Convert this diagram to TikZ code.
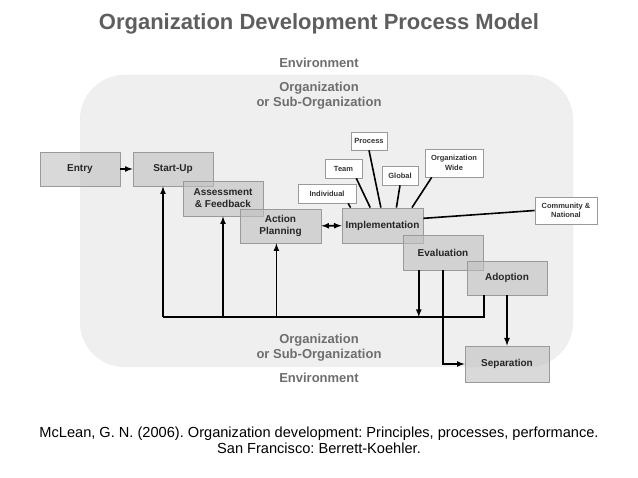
\documentclass[tikz,border=0pt]{standalone}
\usepackage{fontspec}
\setmainfont{Liberation Sans}
\usetikzlibrary{calc}
\frenchspacing
\definecolor{titlegray}{HTML}{5E5E5E}
\definecolor{envgray}{HTML}{6E6E6E}
\definecolor{orgfill}{HTML}{EFEFEF}
\definecolor{boxfill}{HTML}{C0C0C0}
\definecolor{boxline}{HTML}{9A9A9A}
\definecolor{tagtext}{HTML}{333333}
\begin{document}
\begin{tikzpicture}[x=1pt,y=-1pt,
  stage/.style={draw=boxline,line width=0.8pt,fill=boxfill,fill opacity=0.6,text opacity=1,
    minimum width=80pt,minimum height=34pt,inner sep=1pt,align=center,
    font=\fontsize{10}{12}\selectfont\bfseries,text=black!85},
  tag/.style={draw=boxline,line width=0.7pt,fill=white,inner sep=1pt,align=center,
    font=\fontsize{7.5}{9.5}\selectfont\bfseries,text=tagtext},
  envtext/.style={align=center,text=envgray,font=\fontsize{13}{15}\selectfont\bfseries},
  flow/.style={line width=1.6pt,black},
  >=latex]
  \useasboundingbox (0,0) rectangle (638,478);
  \fill[white] (0,0) rectangle (638,478);
  \node[text=titlegray,font=\fontsize{22}{26}\selectfont\bfseries] (title) at (319,24) {Organization Development Process Model};
  % environment and organization
  \draw[orgfill!80!gray,dotted,fill=orgfill,rounded corners=45pt] (80,75) rectangle (573,367);
  \node[envtext] (envtop) at (319,63) {Environment};
  \node[envtext] (envbot) at (319,378) {Environment};
  \node[envtext] (orgtop) at (319,95.5) {Organization\\or Sub-Organization};
  \node[envtext] (orgbot) at (319,347.5) {Organization\\or Sub-Organization};
  % stages
  \node[stage] (entry) at (80,169) {Entry};
  \node[stage] (start) at (173,169) {Start-Up};
  \node[stage,minimum height=35pt] (assess) at (223,198.5) {Assessment\\\& Feedback};
  \node[stage,minimum width=81pt] (action) at (280.5,226) {Action\\Planning};
  \node[stage,minimum width=81pt,minimum height=35pt] (impl) at (382.5,225.5) {Implementation};
  \node[stage,minimum height=35pt] (eval) at (443,252.5) {Evaluation};
  \node[stage] (adopt) at (507,278) {Adoption};
  \node[stage,minimum width=84pt,minimum height=36pt] (sep) at (507,364) {Separation};
  % levels of implementation
  \node[tag,minimum width=36pt,minimum height=18pt] (process) at (369,141) {Process};
  \node[tag,minimum width=37pt,minimum height=19pt] (team) at (343.5,168.5) {Team};
  \node[tag,minimum width=36pt,minimum height=19pt] (global) at (400,175.5) {Global};
  \node[tag,minimum width=58pt,minimum height=28pt] (orgwide) at (454,163) {Organization\\Wide};
  \node[tag,minimum width=58pt,minimum height=19pt] (indiv) at (327,193.5) {Individual};
  \node[tag,minimum width=62pt,minimum height=27pt] (commun) at (566,210.5) {Community \&\\National};
  \draw[flow] ($(indiv.south west)!0.86!(indiv.south east)$) -- ($(impl.north west)!0.11!(impl.north east)$);
  \draw[flow] ($(team.south west)!0.84!(team.south east)$) -- ($(impl.north west)!0.35!(impl.north east)$);
  \draw[flow] (process.south) -- ($(impl.north west)!0.48!(impl.north east)$);
  \draw[flow] (global.south) -- ($(impl.north west)!0.67!(impl.north east)$);
  \draw[flow] ($(orgwide.south west)!0.12!(orgwide.south east)$) -- ($(impl.north west)!0.86!(impl.north east)$);
  \draw[flow] ($(impl.north east)!0.3!(impl.south east)$) -- (commun.west);
  % main flow
  \draw[flow,->] (entry) -- (start);
  \draw[flow,<->] (action) -- (impl);
  \coordinate (loopL) at (163,317);
  \coordinate (loopR) at (484,317);
  \coordinate (actfoot) at ($(action.south west)!0.45!(action.south east)$);
  \coordinate (evalfoot) at ($(eval.south west)!0.2!(eval.south east)$);
  \draw[flow] (adopt.south -| loopR) -- (loopR) -- (loopL);
  \draw[flow,->] (loopL) -- (start.south -| loopL);
  \draw[flow,->] (assess.south |- loopL) -- (assess.south);
  \draw[flow,->] (actfoot |- loopL) -- (actfoot);
  \draw[flow,->] (evalfoot) -- (evalfoot |- loopL);
  \draw[flow,->] (eval.south) |- (sep.west);
  \draw[flow,->] (adopt.south) -- (sep.north);
  % reference
  \node[align=center,font=\fontsize{14.6}{16}\selectfont] (cite) at (319,440) {McLean, G. N. (2006). Organization development: Principles, processes, performance.\\San Francisco: Berrett-Koehler.};
\end{tikzpicture}
\end{document}
